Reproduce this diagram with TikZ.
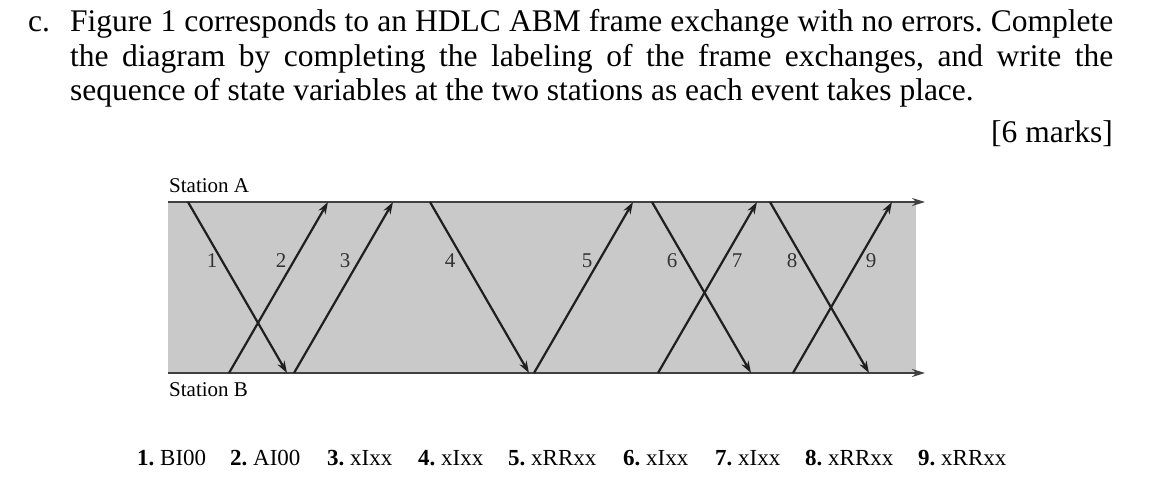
\documentclass[tikz,border=0pt]{standalone}
\usepackage{fontspec}
\setmainfont{Liberation Serif}
\usetikzlibrary{arrows.meta}
\frenchspacing
\begin{document}
\begin{tikzpicture}[x=1pt,y=-1pt,
  frame/.style={line width=2.2pt,draw=black!88,-{Stealth[length=12pt,width=8pt]}},
  axis/.style={line width=1.8pt,draw=black!75,-{Stealth[length=13pt,width=8pt]}},
  num/.style={font=\fontsize{21}{21}\selectfont,text=black!80,inner sep=0pt},
  lbl/.style={font=\fontsize{21}{21}\selectfont,anchor=base west,inner sep=0pt},
  ans/.style={font=\fontsize{23}{23}\selectfont,anchor=base west,inner sep=0pt},
  para/.style={font=\fontsize{31.5}{35}\selectfont,anchor=base west,inner sep=0pt}]
\useasboundingbox (0,0) rectangle (1172,480);
% question text
\node[para] (c) at (28,31) {c.};
\node[para] (l1) at (70,31) {\hbox to 1043pt{Figure 1 corresponds to an HDLC ABM frame exchange with no errors. Complete}};
\node[para] (l2) at (70,66) {\hbox to 1043pt{the diagram by completing the labeling of the frame exchanges, and write the}};
\node[para] (l3) at (70,100) {sequence of state variables at the two stations as each event takes place.};
\node[para,anchor=base east] (marks) at (1113,142) {[6 marks]};
% shaded band
\fill[black!21] (168,202) rectangle (916,373);
\coordinate (A0) at (168,202);
\coordinate (A1) at (925,202);
\coordinate (B0) at (168,373);
\coordinate (B1) at (925,373);
\draw[axis] (A0) -- (A1);
\draw[axis] (B0) -- (B1);
\node[lbl] (sa) at (169,192) {Station A};
\node[lbl] (sb) at (169,396) {Station B};
% frame endpoints
\foreach \n/\x in {1/188,4/430,6/652,8/770}{
  \coordinate (t\n) at (\x,202);
  \coordinate (b\n) at (\x+99,373);
  \draw[frame] (t\n) -- (b\n);
}
\foreach \n/\x in {2/229,3/294,5/534,7/658,9/793}{
  \coordinate (b\n) at (\x,373);
  \coordinate (t\n) at (\x+99,202);
  \draw[frame] (b\n) -- (t\n);
}
% frame numbers
\foreach \n/\x in {1/212,2/281,3/345,4/450,5/587,6/672,7/737,8/792,9/871}{
  \node[num] (n\n) at (\x,261) {\n};
}
% answers
\node[ans] (a1) at (137,465) {\textbf{1.} BI00};
\node[ans] (a2) at (230,465) {\textbf{2.} AI00};
\node[ans] (a3) at (327,465) {\textbf{3.} xIxx};
\node[ans] (a4) at (418,465) {\textbf{4.} xIxx};
\node[ans] (a5) at (508,465) {\textbf{5.} xRRxx};
\node[ans] (a6) at (623,465) {\textbf{6.} xIxx};
\node[ans] (a7) at (715,465) {\textbf{7.} xIxx};
\node[ans] (a8) at (805,465) {\textbf{8.} xRRxx};
\node[ans] (a9) at (918,465) {\textbf{9.} xRRxx};
\end{tikzpicture}
\end{document}
